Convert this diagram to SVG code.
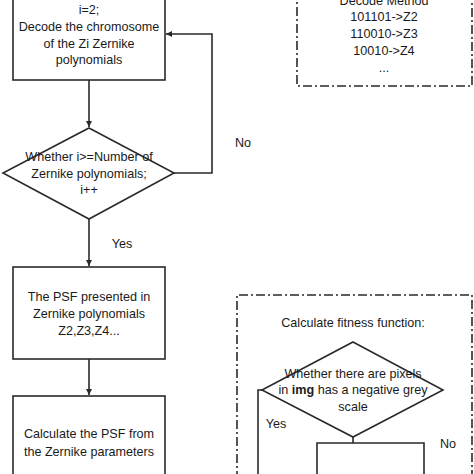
<svg xmlns="http://www.w3.org/2000/svg" width="474" height="474" viewBox="0 0 474 474">
<defs>
<style>
.n{fill:#fff;stroke:#2a2a2a;stroke-width:1.6}
.d{fill:none;stroke:#2a2a2a;stroke-width:1.6;stroke-dasharray:9 3 2 3}
.c{fill:none;stroke:#2a2a2a;stroke-width:1.6}
text{font-family:"Liberation Sans",Arial,sans-serif;font-size:12.6px;fill:#1a1a1a;text-anchor:middle}
</style>
<marker id="ah" markerWidth="8" markerHeight="8" refX="6" refY="3" orient="auto" markerUnits="userSpaceOnUse">
<path d="M0,0 L6,3 L0,6 z" fill="#2a2a2a"/>
</marker>
</defs>
<rect width="474" height="474" fill="#fff"/>
<g id="connectors">
<path class="c" d="M89,80 V127" marker-end="url(#ah)"/>
<path class="c" d="M174,173 H212 V34 H166" marker-end="url(#ah)"/>
<path class="c" d="M89,219 V266" marker-end="url(#ah)"/>
<path class="c" d="M89,359 V395" marker-end="url(#ah)"/>
<path class="c" d="M262,390 H258 V480"/>
<path class="c" d="M353,437 V443"/>
</g>
<g id="decode-method">
<path class="d" d="M297,-10 V86 H472 V-10"/>
<text x="384" y="5">Decode Method</text>
<text x="384" y="21">101101-&gt;Z2</text>
<text x="384" y="38">110010-&gt;Z3</text>
<text x="384" y="55">10010-&gt;Z4</text>
<text x="384" y="72">...</text>
</g>
<g id="init-decode">
<rect class="n" x="13" y="-10" width="152" height="90"/>
<text x="89" y="14">i=2;</text>
<text x="89" y="31">Decode the chromosome</text>
<text x="89" y="48">of the Zi Zernike</text>
<text x="89" y="64">polynomials</text>
</g>
<g id="check-i">
<polygon class="n" points="89,128 174,173 89,219 3,173"/>
<text x="89" y="161">Whether i&gt;=Number of</text>
<text x="89" y="178">Zernike polynomials;</text>
<text x="89" y="194">i++</text>
</g>
<text x="243" y="147">No</text>
<text x="122" y="248">Yes</text>
<g id="psf-zernike">
<rect class="n" x="13" y="267" width="152" height="92"/>
<text x="89" y="301">The PSF presented in</text>
<text x="89" y="318">Zernike polynomials</text>
<text x="89" y="335">Z2,Z3,Z4...</text>
</g>
<g id="calc-psf">
<rect class="n" x="13" y="396" width="152" height="90"/>
<text x="89" y="438">Calculate the PSF from</text>
<text x="89" y="456">the Zernike parameters</text>
</g>
<g id="fitness">
<path class="d" d="M237,480 V295 H472 V480"/>
<text x="353" y="327">Calculate fitness function:</text>
</g>
<g id="check-pixels">
<polygon class="n" points="353,342 443,390 353,437 262,390"/>
<text x="353" y="378">Whether there are pixels</text>
<text x="353" y="394">in <tspan font-weight="bold">img</tspan> has a negative grey</text>
<text x="353" y="411">scale</text>
</g>
<text x="276" y="428">Yes</text>
<text x="448" y="448">No</text>
<g id="next-step">
<path class="n" d="M317,480 V443 H424 V480"/>
</g>
</svg>
